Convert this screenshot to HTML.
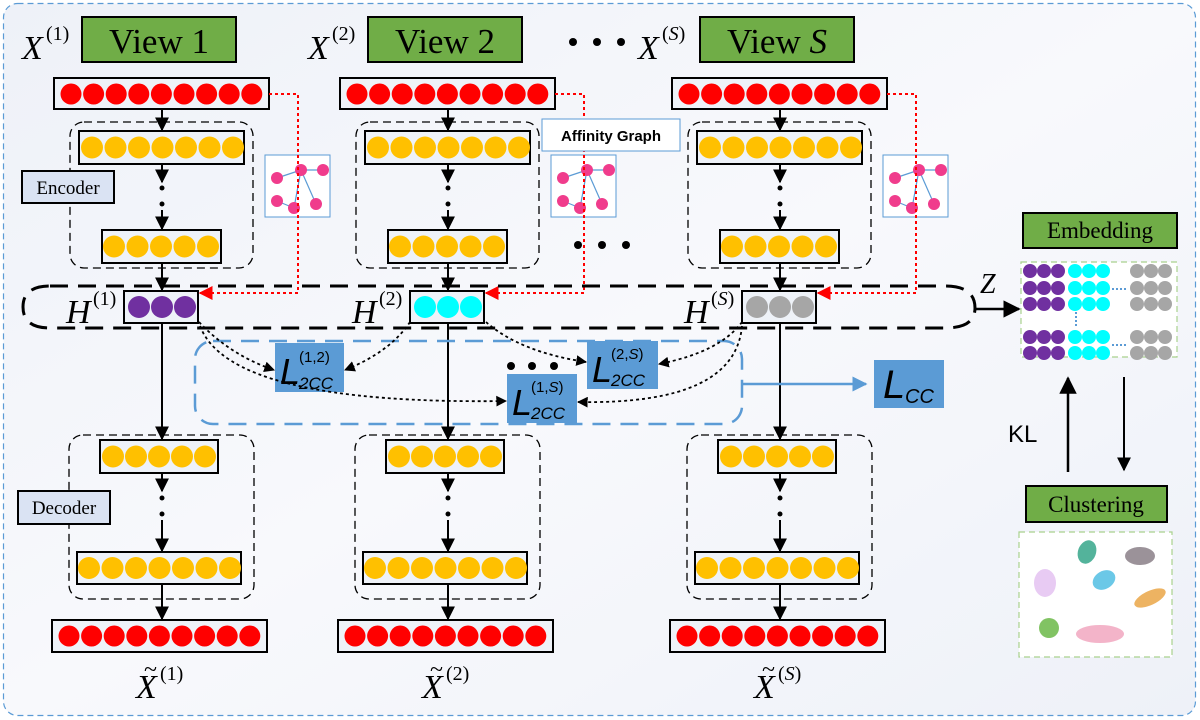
<!DOCTYPE html>
<html><head><meta charset="utf-8"><style>
html,body{margin:0;padding:0;background:#fff;}
svg{display:block;}
.serif{font-family:"Liberation Serif",serif;}
.sans{font-family:"Liberation Sans",sans-serif;}
</style></head><body>
<svg width="1200" height="720" viewBox="0 0 1200 720" xmlns="http://www.w3.org/2000/svg">
<defs>
<marker id="ah" viewBox="0 0 10 10" refX="9" refY="5" markerWidth="7" markerHeight="7" orient="auto-start-reverse"><path d="M0,0L10,5L0,10z" fill="#000"/></marker>
<marker id="ahr" viewBox="0 0 10 10" refX="9" refY="5" markerWidth="7" markerHeight="7" orient="auto"><path d="M0,0L10,5L0,10z" fill="#f00"/></marker>
<marker id="ahb" viewBox="0 0 10 10" refX="9" refY="5" markerWidth="6" markerHeight="6" orient="auto"><path d="M0,0L10,5L0,10z" fill="#5b9bd5"/></marker>
<marker id="ahs" viewBox="0 0 10 10" refX="9" refY="5" markerWidth="6" markerHeight="6" orient="auto"><path d="M0,0L10,5L0,10z" fill="#000"/></marker>
<linearGradient id="bg" x1="0" y1="0" x2="1" y2="1"><stop offset="0" stop-color="#eef1f8"/><stop offset="0.5" stop-color="#f8f9fc"/><stop offset="1" stop-color="#eef1f8"/></linearGradient>
<g id="col">
  <rect x="54" y="78" width="215" height="31" fill="#eef2f8" stroke="#000" stroke-width="2"/>
  <g fill="#f00">
    <circle cx="71" cy="94" r="10.5"/><circle cx="93.6" cy="94" r="10.5"/><circle cx="116.2" cy="94" r="10.5"/><circle cx="138.8" cy="94" r="10.5"/><circle cx="161.4" cy="94" r="10.5"/><circle cx="184" cy="94" r="10.5"/><circle cx="206.6" cy="94" r="10.5"/><circle cx="229.2" cy="94" r="10.5"/><circle cx="251.8" cy="94" r="10.5"/>
  </g>
  <rect x="70" y="122" width="183" height="146" rx="14" fill="none" stroke="#000" stroke-width="1.3" stroke-dasharray="8,5"/>
  <rect x="79" y="131" width="165" height="33" fill="#eef2f8" stroke="#000" stroke-width="2"/>
  <g fill="#ffc000">
    <circle cx="92" cy="147.5" r="11"/><circle cx="115.5" cy="147.5" r="11"/><circle cx="139" cy="147.5" r="11"/><circle cx="162.5" cy="147.5" r="11"/><circle cx="186" cy="147.5" r="11"/><circle cx="209.5" cy="147.5" r="11"/><circle cx="233" cy="147.5" r="11"/>
  </g>
  <rect x="102" y="230" width="119" height="33" fill="#eef2f8" stroke="#000" stroke-width="2"/>
  <g fill="#ffc000">
    <circle cx="114" cy="246.5" r="11"/><circle cx="137.5" cy="246.5" r="11"/><circle cx="161" cy="246.5" r="11"/><circle cx="184.5" cy="246.5" r="11"/><circle cx="208" cy="246.5" r="11"/>
  </g>
  <g stroke="#000" stroke-width="2" fill="none">
    <line x1="162" y1="109" x2="162" y2="130" marker-end="url(#ah)"/>
    <line x1="162" y1="164" x2="162" y2="182" marker-end="url(#ah)"/>
    <line x1="162" y1="210" x2="162" y2="229" marker-end="url(#ah)"/>
    <line x1="162" y1="263" x2="162" y2="290" marker-end="url(#ah)"/>
    <line x1="162" y1="323" x2="162" y2="439" marker-end="url(#ah)"/>
    <line x1="162" y1="473" x2="162" y2="491" marker-end="url(#ah)"/>
    <line x1="162" y1="520" x2="162" y2="551" marker-end="url(#ah)"/>
    <line x1="162" y1="584" x2="162" y2="619" marker-end="url(#ah)"/>
  </g>
  <circle cx="162" cy="188" r="2.5"/><circle cx="162" cy="204" r="2.5"/>
  <circle cx="162" cy="498" r="2.5"/><circle cx="162" cy="514" r="2.5"/>
  <rect x="124" y="291" width="74" height="32" fill="#eef2f8" stroke="#000" stroke-width="2"/>
  <rect x="69" y="435" width="185" height="164" rx="14" fill="none" stroke="#000" stroke-width="1.3" stroke-dasharray="8,5"/>
  <rect x="100" y="440" width="118" height="33" fill="#eef2f8" stroke="#000" stroke-width="2"/>
  <g fill="#ffc000">
    <circle cx="113" cy="456.5" r="11"/><circle cx="136" cy="456.5" r="11"/><circle cx="159" cy="456.5" r="11"/><circle cx="182" cy="456.5" r="11"/><circle cx="205" cy="456.5" r="11"/>
  </g>
  <rect x="77" y="552" width="164" height="32" fill="#eef2f8" stroke="#000" stroke-width="2"/>
  <g fill="#ffc000">
    <circle cx="89" cy="568" r="11"/><circle cx="112.5" cy="568" r="11"/><circle cx="136" cy="568" r="11"/><circle cx="159.5" cy="568" r="11"/><circle cx="183" cy="568" r="11"/><circle cx="206.5" cy="568" r="11"/><circle cx="230" cy="568" r="11"/>
  </g>
  <rect x="52" y="620" width="215" height="32" fill="#eef2f8" stroke="#000" stroke-width="2"/>
  <g fill="#f00">
    <circle cx="69" cy="636" r="10.5"/><circle cx="91.6" cy="636" r="10.5"/><circle cx="114.2" cy="636" r="10.5"/><circle cx="136.8" cy="636" r="10.5"/><circle cx="159.4" cy="636" r="10.5"/><circle cx="182" cy="636" r="10.5"/><circle cx="204.6" cy="636" r="10.5"/><circle cx="227.2" cy="636" r="10.5"/><circle cx="249.8" cy="636" r="10.5"/>
  </g>
  <rect x="265" y="155" width="65" height="62" fill="#fff" stroke="#5b9bd5" stroke-width="1"/>
  <g stroke="#5b9bd5" stroke-width="1.2">
    <line x1="277" y1="178" x2="301" y2="170"/><line x1="301" y1="170" x2="323" y2="170"/><line x1="301" y1="170" x2="316" y2="204"/><line x1="301" y1="170" x2="294" y2="208"/><line x1="277" y1="201" x2="294" y2="208"/>
  </g>
  <g fill="#f03c8c">
    <circle cx="277" cy="178" r="6"/><circle cx="301" cy="170" r="6"/><circle cx="323" cy="170" r="6"/><circle cx="277" cy="201" r="6"/><circle cx="294" cy="208" r="6"/><circle cx="316" cy="204" r="6"/>
  </g>
  <path d="M269,94 H298 V293 H200" fill="none" stroke="#f00" stroke-width="2" stroke-dasharray="3,3" marker-end="url(#ahr)"/>
</g>
</defs>

<rect x="0" y="0" width="1200" height="720" fill="#fff"/>
<rect x="3.5" y="3.5" width="1192" height="712" rx="14" fill="url(#bg)" stroke="#5b9bd5" stroke-width="1.2" stroke-dasharray="6,4"/>

<use href="#col"/>
<use href="#col" x="286"/>
<use href="#col" x="618"/>

<g fill="#7030a0"><circle cx="139" cy="307" r="11"/><circle cx="162" cy="307" r="11"/><circle cx="185" cy="307" r="11"/></g>
<g fill="#00ffff"><circle cx="425" cy="307" r="11"/><circle cx="448" cy="307" r="11"/><circle cx="471" cy="307" r="11"/></g>
<g fill="#a6a6a6"><circle cx="757" cy="307" r="11"/><circle cx="780" cy="307" r="11"/><circle cx="803" cy="307" r="11"/></g>

<path d="M50,286 H945 Q975,286 975,308 Q975,328 945,328 H50 Q23,328 23,307 Q23,286 50,286Z" fill="none" stroke="#000" stroke-width="3" stroke-dasharray="18,10"/>
<line x1="975" y1="309" x2="1019" y2="309" stroke="#000" stroke-width="2.5" marker-end="url(#ah)"/>
<text x="980" y="293" class="serif" font-size="28" font-style="italic">Z</text>

<g class="serif" font-size="35" text-anchor="middle">
<rect x="82" y="17" width="154" height="45" fill="#70ad47" stroke="#000" stroke-width="2"/>
<text x="159" y="53">View 1</text>
<rect x="368" y="17" width="154" height="45" fill="#70ad47" stroke="#000" stroke-width="2"/>
<text x="445" y="53">View 2</text>
<rect x="700" y="17" width="154" height="45" fill="#70ad47" stroke="#000" stroke-width="2"/>
<text x="777" y="53">View <tspan font-style="italic">S</tspan></text>
</g>
<g class="serif" font-size="34" font-style="italic">
<text x="22" y="59">X</text><text x="308" y="59">X</text><text x="638" y="59">X</text>
</g>
<g class="serif" font-size="20">
<text x="46" y="40">(1)</text><text x="332" y="40">(2)</text><text x="662" y="40">(<tspan font-style="italic">S</tspan>)</text>
</g>
<g fill="#000"><circle cx="573" cy="42" r="4"/><circle cx="597" cy="42" r="4"/><circle cx="621" cy="42" r="4"/></g>

<g class="serif" font-size="34" font-style="italic"><text x="66" y="323">H</text><text x="352" y="323">H</text><text x="684" y="323">H</text></g>
<g class="serif" font-size="20"><text x="93" y="305">(1)</text><text x="379" y="305">(2)</text><text x="711" y="305">(<tspan font-style="italic">S</tspan>)</text></g>

<rect x="22" y="171" width="92" height="32" fill="#dae3f3" stroke="#000" stroke-width="2"/>
<text x="68" y="194" class="serif" font-size="19" text-anchor="middle">Encoder</text>
<rect x="18" y="491" width="92" height="33" fill="#dae3f3" stroke="#000" stroke-width="2"/>
<text x="64" y="514" class="serif" font-size="19" text-anchor="middle">Decoder</text>

<rect x="542" y="119" width="138" height="32" fill="#fff" stroke="#5b9bd5" stroke-width="1"/>
<text x="611" y="141" class="sans" font-size="15" font-weight="bold" text-anchor="middle">Affinity Graph</text>
<g fill="#000"><circle cx="578" cy="245" r="4"/><circle cx="602" cy="245" r="4"/><circle cx="626" cy="245" r="4"/></g>

<g class="serif" font-size="34" font-style="italic"><text x="136" y="698">X</text><text x="422" y="698">X</text><text x="754" y="698">X</text></g>
<g class="serif" font-size="24"><text x="144" y="677">~</text><text x="430" y="677">~</text><text x="762" y="677">~</text></g>
<g class="serif" font-size="20"><text x="160" y="680">(1)</text><text x="446" y="680">(2)</text><text x="778" y="680">(<tspan font-style="italic">S</tspan>)</text></g>

<rect x="195" y="341" width="547" height="83" rx="18" fill="none" stroke="#5b9bd5" stroke-width="2.5" stroke-dasharray="18,10"/>
<line x1="742" y1="384" x2="866" y2="384" stroke="#5b9bd5" stroke-width="2.5" marker-end="url(#ahb)"/>
<g fill="#5b9bd5">
<rect x="275" y="343" width="69" height="49"/>
<rect x="587" y="341" width="71" height="48"/>
<rect x="507" y="374" width="70" height="49"/>
<rect x="874" y="360" width="70" height="48"/>
</g>
<g class="sans" font-style="italic">
<text x="280" y="384" font-size="36">L</text><text x="299" y="362" font-size="15" font-style="normal">(1,2)</text><text x="299" y="389" font-size="17">2CC</text>
<text x="592" y="382" font-size="36">L</text><text x="611" y="359" font-size="15" font-style="normal">(2,<tspan font-style="italic">S</tspan>)</text><text x="611" y="386" font-size="17">2CC</text>
<text x="512" y="415" font-size="36">L</text><text x="531" y="392" font-size="15" font-style="normal">(1,<tspan font-style="italic">S</tspan>)</text><text x="531" y="419" font-size="17">2CC</text>
<text x="883" y="398" font-size="40">L</text><text x="905" y="403" font-size="20">CC</text>
</g>
<g fill="#000"><circle cx="511" cy="366" r="4"/><circle cx="532" cy="366" r="4"/><circle cx="554" cy="366" r="4"/></g>
<g fill="none" stroke="#000" stroke-width="1.8" stroke-dasharray="3,3">
<path d="M199,322 Q230,355 274,370" marker-end="url(#ahs)"/>
<path d="M410,322 Q390,352 345,370" marker-end="url(#ahs)"/>
<path d="M486,322 Q520,352 586,362" marker-end="url(#ahs)"/>
<path d="M742,322 Q720,352 659,364" marker-end="url(#ahs)"/>
<path d="M200,326 Q230,405 506,401" marker-end="url(#ahs)"/>
<path d="M742,326 Q735,405 578,402" marker-end="url(#ahs)"/>
</g>

<rect x="1023" y="213" width="154" height="35" fill="#70ad47" stroke="#000" stroke-width="2"/>
<text x="1100" y="238" class="serif" font-size="23" text-anchor="middle">Embedding</text>
<rect x="1021" y="262" width="156" height="95" fill="#fff" stroke="#a9d18e" stroke-width="1.2" stroke-dasharray="6,4"/>
<g>
<g fill="#7030a0">
<circle cx="1030" cy="271" r="7"/><circle cx="1044" cy="271" r="7"/><circle cx="1058" cy="271" r="7"/>
<circle cx="1030" cy="288" r="7"/><circle cx="1044" cy="288" r="7"/><circle cx="1058" cy="288" r="7"/>
<circle cx="1030" cy="304" r="7"/><circle cx="1044" cy="304" r="7"/><circle cx="1058" cy="304" r="7"/>
<circle cx="1030" cy="337" r="7"/><circle cx="1044" cy="337" r="7"/><circle cx="1058" cy="337" r="7"/>
<circle cx="1030" cy="353" r="7"/><circle cx="1044" cy="353" r="7"/><circle cx="1058" cy="353" r="7"/>
</g>
<g fill="#00ffff">
<circle cx="1075" cy="271" r="7"/><circle cx="1089" cy="271" r="7"/><circle cx="1103" cy="271" r="7"/>
<circle cx="1075" cy="288" r="7"/><circle cx="1089" cy="288" r="7"/><circle cx="1103" cy="288" r="7"/>
<circle cx="1075" cy="304" r="7"/><circle cx="1089" cy="304" r="7"/><circle cx="1103" cy="304" r="7"/>
<circle cx="1075" cy="337" r="7"/><circle cx="1089" cy="337" r="7"/><circle cx="1103" cy="337" r="7"/>
<circle cx="1075" cy="353" r="7"/><circle cx="1089" cy="353" r="7"/><circle cx="1103" cy="353" r="7"/>
</g>
<g fill="#a6a6a6">
<circle cx="1137" cy="271" r="7"/><circle cx="1151" cy="271" r="7"/><circle cx="1165" cy="271" r="7"/>
<circle cx="1137" cy="288" r="7"/><circle cx="1151" cy="288" r="7"/><circle cx="1165" cy="288" r="7"/>
<circle cx="1137" cy="304" r="7"/><circle cx="1151" cy="304" r="7"/><circle cx="1165" cy="304" r="7"/>
<circle cx="1137" cy="337" r="7"/><circle cx="1151" cy="337" r="7"/><circle cx="1165" cy="337" r="7"/>
<circle cx="1137" cy="353" r="7"/><circle cx="1151" cy="353" r="7"/><circle cx="1165" cy="353" r="7"/>
</g>
<g stroke="#5b9bd5" stroke-width="2" stroke-dasharray="2,2">
<line x1="1112" y1="289" x2="1128" y2="289"/><line x1="1112" y1="345" x2="1128" y2="345"/><line x1="1076" y1="312" x2="1076" y2="328"/>
</g>
</g>

<line x1="1068" y1="472" x2="1068" y2="378" stroke="#000" stroke-width="2.5" marker-end="url(#ah)"/>
<line x1="1124" y1="377" x2="1124" y2="470" stroke="#000" stroke-width="2" marker-end="url(#ah)"/>
<text x="1008" y="442" class="sans" font-size="24">KL</text>

<rect x="1026" y="486" width="141" height="36" fill="#70ad47" stroke="#000" stroke-width="2"/>
<text x="1096" y="512" class="serif" font-size="23" text-anchor="middle">Clustering</text>
<rect x="1019" y="532" width="153" height="125" fill="#fff" stroke="#a9d18e" stroke-width="1.2" stroke-dasharray="6,4"/>
<g opacity="0.75">
<ellipse cx="1087" cy="552" rx="9" ry="12" fill="#1a9a7a" transform="rotate(20 1087 552)"/>
<ellipse cx="1140" cy="556" rx="15" ry="9" fill="#7a6e78"/>
<ellipse cx="1045" cy="583" rx="11" ry="14" fill="#d39be8" opacity="0.7"/>
<ellipse cx="1104" cy="580" rx="12" ry="9" fill="#3ab6e0" transform="rotate(-30 1104 580)"/>
<ellipse cx="1150" cy="598" rx="17" ry="7" fill="#e89a2e" transform="rotate(-25 1150 598)"/>
<ellipse cx="1049" cy="628" rx="10" ry="10" fill="#58b030"/>
<ellipse cx="1100" cy="634" rx="24" ry="9" fill="#e87099" opacity="0.7"/>
</g>
</svg>
</body></html>
